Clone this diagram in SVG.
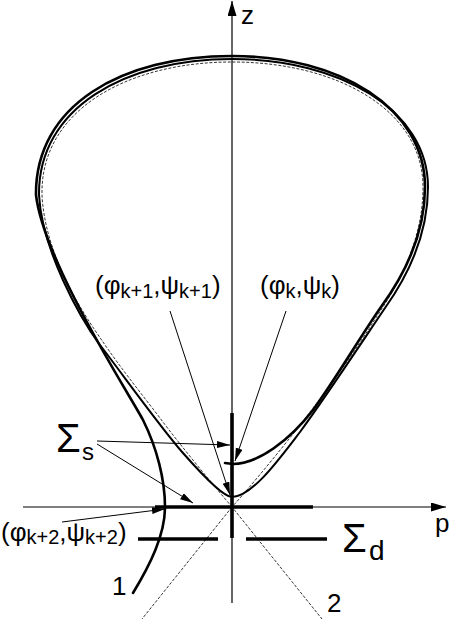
<svg xmlns="http://www.w3.org/2000/svg" width="452" height="619" viewBox="0 0 452 619">
<defs>
<marker id="ah" markerUnits="userSpaceOnUse" markerWidth="14" markerHeight="8" refX="13" refY="3.5" orient="auto">
<path d="M0,0 L13,3.5 L0,7 z" fill="#000"/>
</marker>
<marker id="axh" markerUnits="userSpaceOnUse" markerWidth="16" markerHeight="10" refX="15" refY="4.5" orient="auto">
<path d="M0,0 L15,4.5 L0,9 z" fill="#000"/>
</marker>
<style>
.ax{stroke:#000;stroke-width:1.2;fill:none}
.thick{stroke:#000;stroke-width:2.6;fill:none;stroke-linecap:round}
.mid{stroke:#000;stroke-width:2;fill:none}
.dash{stroke:#000;stroke-width:0.8;fill:none;stroke-dasharray:3,1.6}
.bar{stroke:#000;stroke-width:3.6;fill:none}
.arr{stroke:#000;stroke-width:1;fill:none;marker-end:url(#ah)}
text{font-family:"Liberation Sans",Arial,sans-serif;fill:#000}
.lb{font-size:26px}
.sb{font-size:20px}
</style>
</defs>
<g id="axes">
<line class="ax" x1="232" y1="603" x2="232" y2="1" marker-end="url(#axh)"/>
<line class="ax" x1="23" y1="507" x2="446" y2="507" marker-end="url(#axh)"/>
<text x="241" y="24" class="lb">z</text>
<text x="435" y="532" class="lb">p</text>
</g>
<g id="curves">
<path id="curve1" class="thick" d="M133,593 C150,565 165,535 165,507 C165,480 157,448 143,420 C128,392 44,262 36,195 C35,105 122,56 232,56 C340,56 425,108 425,187 C425,230 408,270 381,307 C360,337 335,380 313,410 C290,440 258,464 233,464 L225,463"/>
<path id="curveB" class="mid" d="M232,497 C224,497 205,478 183,453 C160,427 118,368 100,345 C80,318 42,250 39,195 C38,108 125,59 232,59 C340,59 428,110 428,187 C428,230 412,270 385,308 C360,345 325,398 300,432 C280,458 252,497 232,497"/>
<path id="curve2" class="dash" d="M232,507 C215,487 180,445 160,418 C140,392 120,367 103,342 C82,312 45,255 42,195 C40,110 128,62 232,62 C337,62 423,110 423,187 C423,232 406,272 381,310 C360,343 345,365 330,385 C305,420 265,470 232,507 L322,619 M232,507 L142,619"/>
</g>
<g id="bars">
<line class="bar" x1="232" y1="413" x2="232" y2="538"/>
<line class="bar" x1="155" y1="507" x2="313" y2="507"/>
<line class="bar" x1="138" y1="539" x2="218" y2="539"/>
<line class="bar" x1="246" y1="539" x2="327" y2="539"/>
</g>
<g id="connectors">
<line class="arr" x1="97" y1="441" x2="230" y2="445"/>
<line class="arr" x1="97" y1="444" x2="193" y2="503"/>
<line class="arr" x1="170" y1="311" x2="230" y2="495"/>
<line class="arr" x1="286" y1="311" x2="235" y2="461"/>
<line class="arr" x1="62" y1="522" x2="165" y2="509"/>
</g>
<g id="label-k1">
<text x="95" y="294" class="lb">(φ<tspan class="sb" dy="4">k+1</tspan><tspan dy="-4">,ψ</tspan><tspan class="sb" dy="4">k+1</tspan><tspan dy="-4">)</tspan></text>
</g>
<g id="label-k">
<text x="260" y="294" class="lb">(φ<tspan class="sb" dy="4">k</tspan><tspan dy="-4">,ψ</tspan><tspan class="sb" dy="4">k</tspan><tspan dy="-4">)</tspan></text>
</g>
<g id="label-k2">
<text x="1" y="541" class="lb">(φ<tspan class="sb" dy="3">k+2</tspan><tspan dy="-3">,ψ</tspan><tspan class="sb" dy="3">k+2</tspan><tspan dy="-3">)</tspan></text>
</g>
<g id="label-sigma-s">
<text x="56" y="452" style="font-size:40px">Σ</text>
<text x="82" y="460" style="font-size:24px">s</text>
</g>
<g id="label-sigma-d">
<text x="342" y="552" style="font-size:40px">Σ</text>
<text x="369" y="560" style="font-size:28px">d</text>
</g>
<g id="numbers">
<text x="112" y="595" class="lb">1</text>
<text x="327" y="612" class="lb">2</text>
</g>
</svg>
